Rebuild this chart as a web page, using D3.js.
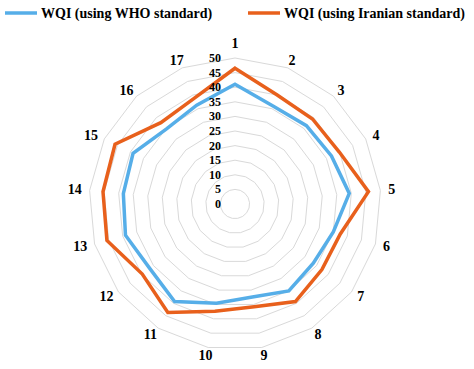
<!DOCTYPE html>
<html>
<head>
<meta charset="utf-8">
<script src="https://cdn.jsdelivr.net/npm/d3@7"></script>
<style>
  html, body { margin: 0; padding: 0; background: #fff; }
  svg { display: block; }
  text { font-family: "Liberation Serif", "Times New Roman", serif; font-weight: bold; fill: #000; }
</style>
</head>
<body>
<svg id="chart" width="474" height="369"></svg>
<script>
// ---- data ----
const categories = ["1","2","3","4","5","6","7","8","9","10","11","12","13","14","15","16","17"];
const whoValues = [41, 36, 36.3, 36.9, 39.3, 35, 33.6, 35, 32.4, 34.6, 39.3, 36.6, 39, 38.4, 39, 34.8, 36.3];
const iranValues = [46.5, 40, 39.4, 39.9, 45.9, 37.5, 37.3, 39.3, 35.8, 37.4, 43.7, 39.8, 45.6, 45.4, 45.9, 37.7, 38.8];
const tickValues = [0, 5, 10, 15, 20, 25, 30, 35, 40, 45, 50];
const seriesNames = ["WQI (using WHO standard)", "WQI (using Iranian standard)"];
const seriesColors = ["#56aee8", "#e8601c"];

// ---- layout ----
const svg = d3.select("#chart");
const cx = 235, cy = 204, outerR = 146;
const r = d3.scaleLinear().domain([0, 50]).range([0, outerR]);
const n = categories.length;
const angle = d3.scaleLinear().domain([0, n]).range([0, 2 * Math.PI]);

const g = svg.append("g").attr("transform", `translate(${cx},${cy})`);

// grid rings
const ringLine = d3.lineRadial().angle((d, i) => angle(i)).radius(d => r(d)).curve(d3.curveLinearClosed);
tickValues.filter(v => v > 0).forEach(v => {
  g.append("path")
    .attr("d", ringLine(categories.map(() => v)))
    .attr("fill", "none")
    .attr("stroke", "#d9d9d9")
    .attr("stroke-width", 1);
});

// series
const seriesData = [whoValues, iranValues];
seriesData.forEach((vals, k) => {
  g.append("path")
    .attr("d", ringLine(vals))
    .attr("fill", "none")
    .attr("stroke", seriesColors[k])
    .attr("stroke-width", 3.5)
    .attr("stroke-linejoin", "miter");
});

// category labels
const labelR = 154;
categories.forEach((c, i) => {
  const a = angle(i);
  const s = Math.sin(a), co = Math.cos(a);
  const t = g.append("text")
    .attr("font-size", 14)
    .attr("text-anchor", "middle")
    .attr("dominant-baseline", "central")
    .text(c);
  const w = t.node().getComputedTextLength();
  const extra = i === 0 ? 7 : 0;
  t.attr("x", s * labelR + s * w / 2)
   .attr("y", -co * (labelR + extra));
});

// radial tick labels
tickValues.forEach(v => {
  g.append("text")
    .attr("x", -14)
    .attr("y", -r(v))
    .attr("font-size", 12)
    .attr("text-anchor", "end")
    .attr("dominant-baseline", "central")
    .text(v);
});

// legend
const legendItems = [{x: 5, name: seriesNames[0], color: seriesColors[0]},
                     {x: 248, name: seriesNames[1], color: seriesColors[1]}];
legendItems.forEach(d => {
  const lg = svg.append("g").attr("transform", `translate(${d.x},13)`);
  lg.append("line").attr("x1", 0).attr("x2", 32).attr("y1", 0).attr("y2", 0)
    .attr("stroke", d.color).attr("stroke-width", 3.5);
  lg.append("text").attr("x", 36).attr("y", 0)
    .attr("font-size", 14).attr("dominant-baseline", "central").text(d.name);
});
</script>
</body>
</html>
